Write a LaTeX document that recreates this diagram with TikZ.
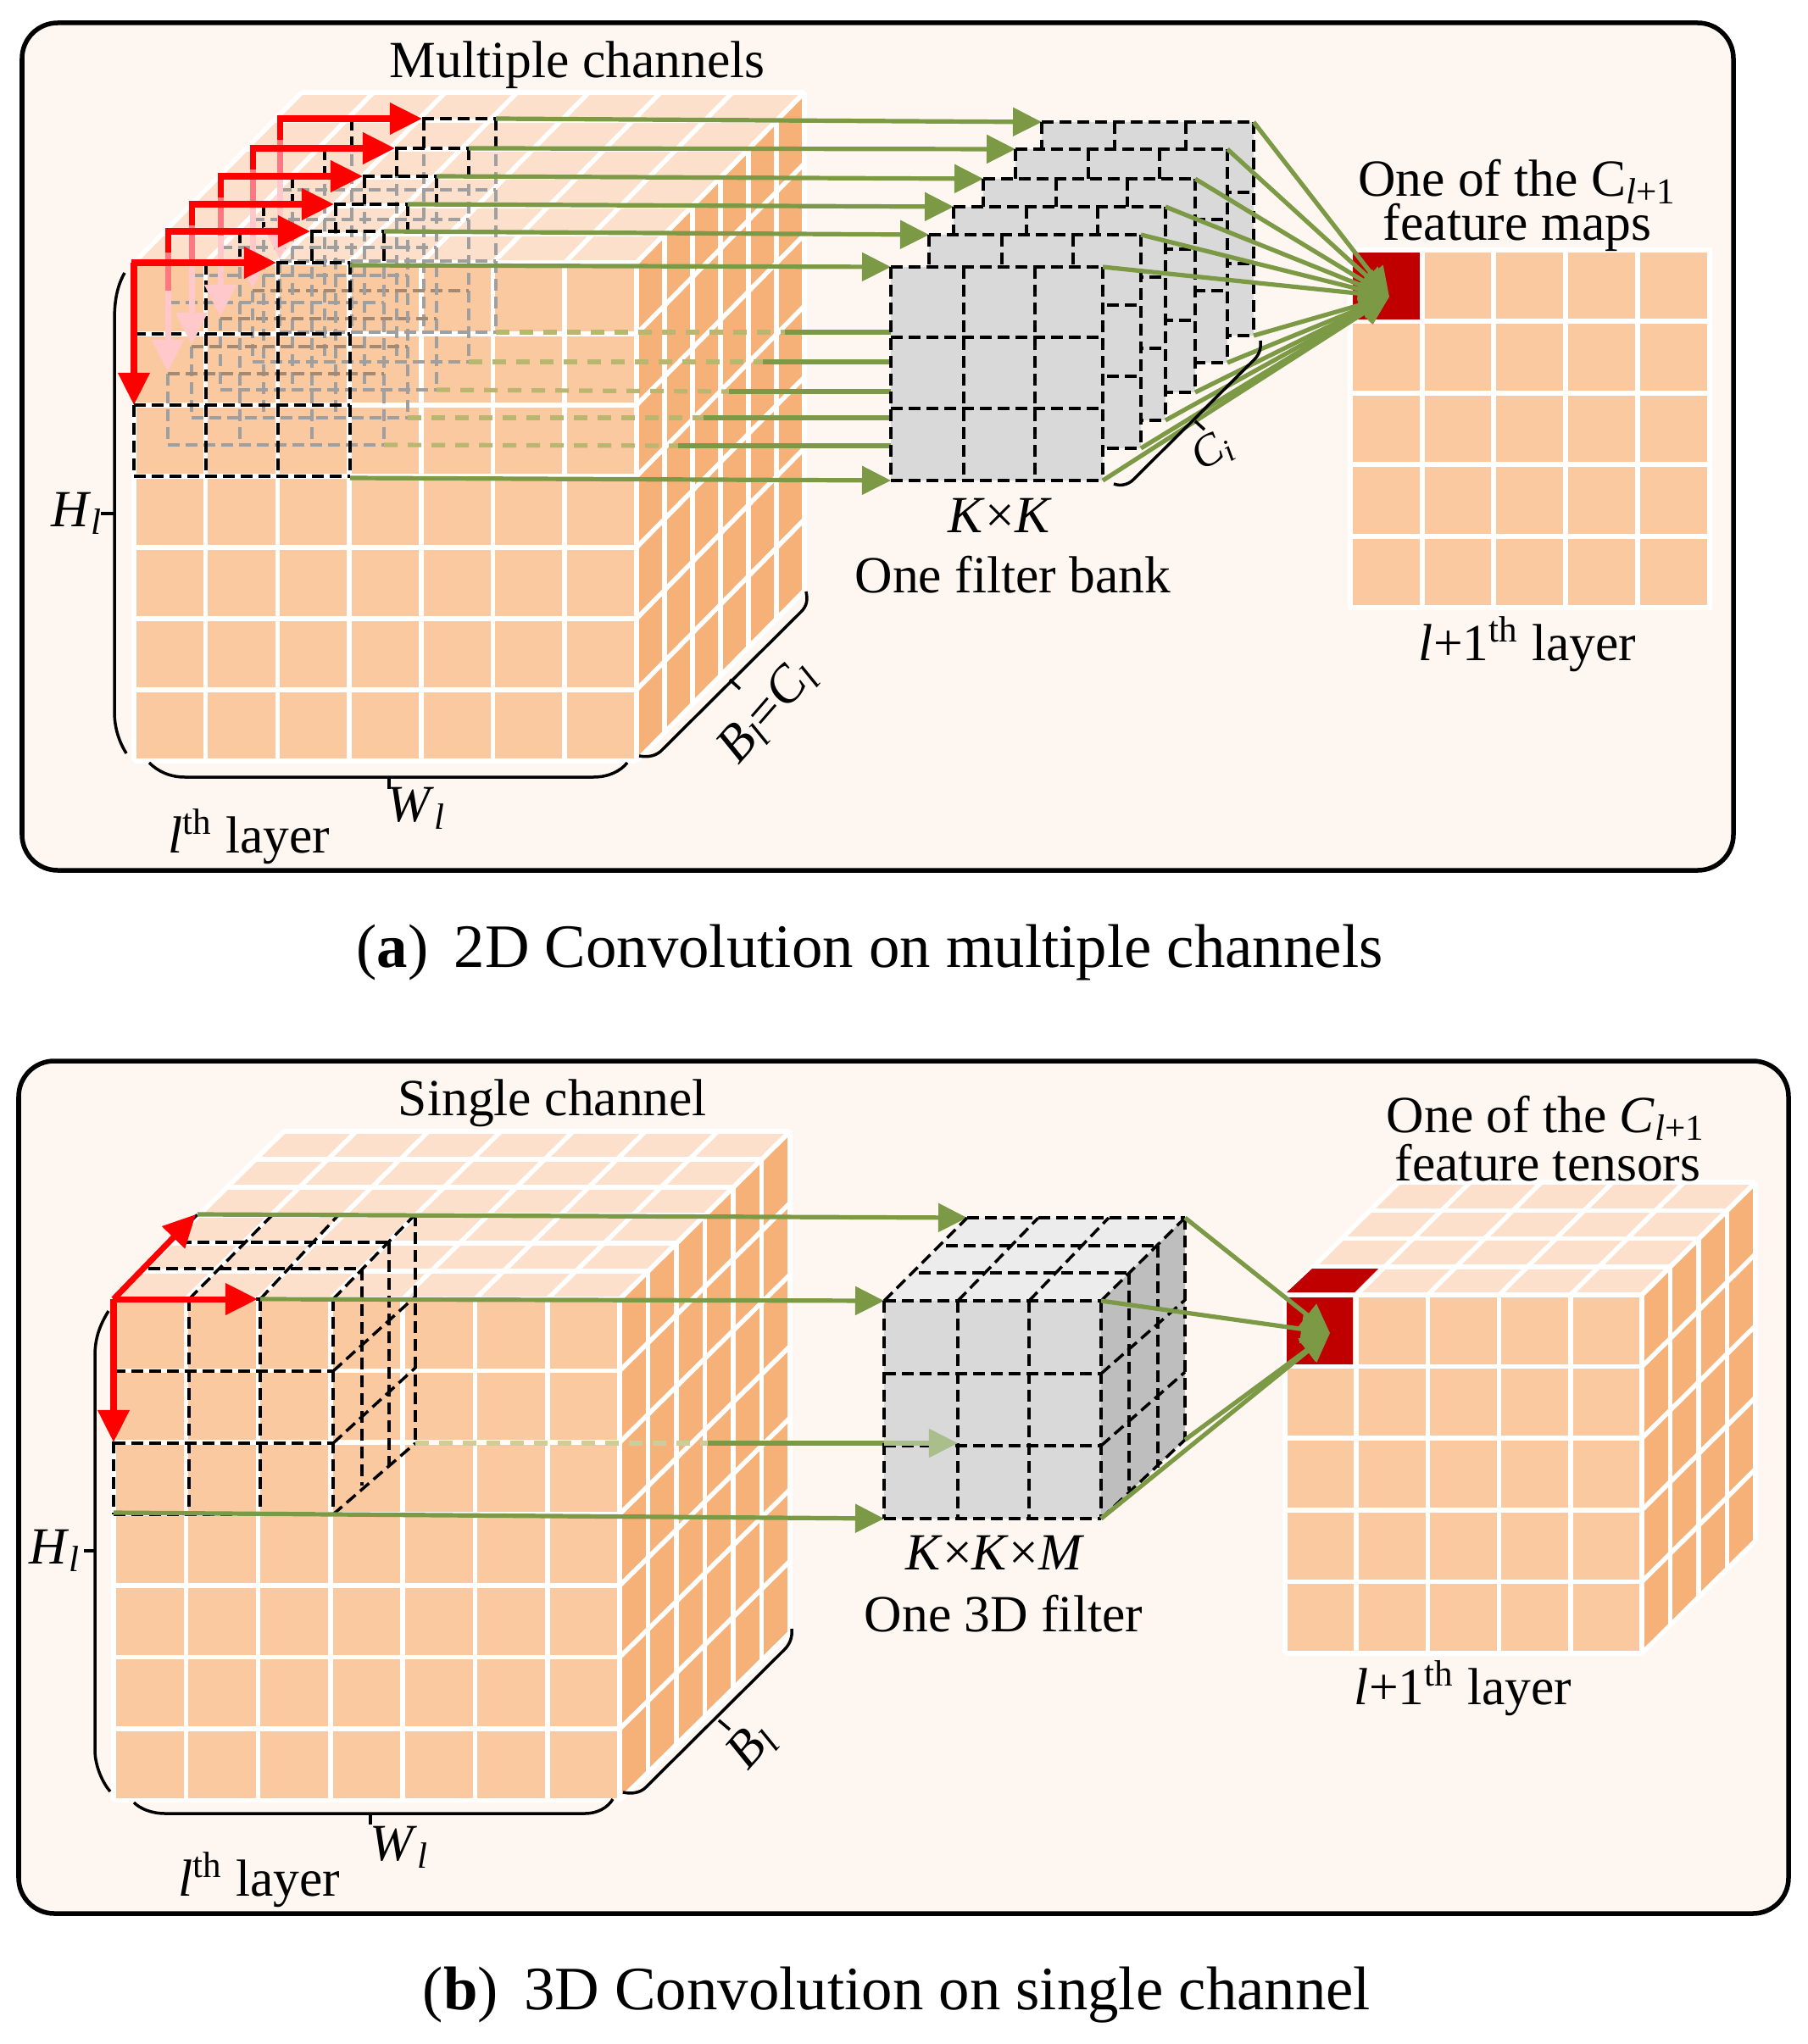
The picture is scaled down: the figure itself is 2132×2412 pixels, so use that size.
\documentclass[tikz,border=0pt]{standalone}
\usepackage{fontspec}
\setmainfont{Liberation Serif}
\usetikzlibrary{arrows.meta,calc}
\definecolor{panelc}{RGB}{254,246,240}
\definecolor{frontc}{RGB}{250,201,160}
\definecolor{topc}{RGB}{252,224,203}
\definecolor{sidec}{RGB}{246,177,120}
\definecolor{grn}{RGB}{124,153,69}
\definecolor{grnfade}{RGB}{185,182,112}
\definecolor{grnpale}{RGB}{170,190,140}
\definecolor{darkred}{RGB}{192,0,0}
\definecolor{pinkc}{RGB}{255,200,203}
\definecolor{redsoft}{RGB}{255,120,128}
\definecolor{brownc}{RGB}{165,138,115}
\definecolor{filt}{RGB}{217,217,217}
\definecolor{filttop}{RGB}{236,236,236}
\definecolor{filtside}{RGB}{190,190,190}
\tikzset{
  panel/.style={draw=black,line width=.055cm,rounded corners=.42cm,fill=panelc},
  wline/.style={white,line width=.055cm},
  dsh/.style={black,line width=.035cm,dash pattern=on .14cm off .07cm},
  dshgray/.style={dsh,color=gray!75},
  dshbrown/.style={dsh,color=brownc},
  redarr/.style={red,line width=.07cm,-{Triangle[length=.38cm,width=.36cm]}},
  pinkarr/.style={pinkc,line width=.07cm,-{Triangle[length=.38cm,width=.36cm]}},
  grnarr/.style={grn,line width=.052cm,-{Triangle[length=.34cm,width=.33cm]}},
  grnline/.style={grn,line width=.052cm},
  grndash/.style={line width=.052cm,dash pattern=on .16cm off .12cm},
  brc/.style={black,line width=.035cm},
  lab/.style={font=\fontsize{17.5}{21}\selectfont,inner sep=0pt,align=center},
  capt/.style={font=\fontsize{20.7}{25}\selectfont,inner sep=0pt},
}
% x y nx ny nz cellw cellh dx dy
\newcommand{\cubegrid}[9]{
  \pgfmathsetmacro\xr{#1+#3*#6}
  \pgfmathsetmacro\yb{#2+#4*#7}
  \pgfmathsetmacro\ddx{#5*#8}
  \pgfmathsetmacro\ddy{#5*#9}
  \fill[frontc] (#1,#2) rectangle (\xr,\yb);
  \fill[topc] (#1,#2) -- (\xr,#2) -- ({\xr+\ddx},{#2+\ddy}) -- ({#1+\ddx},{#2+\ddy}) -- cycle;
  \fill[sidec] (\xr,#2) -- (\xr,\yb) -- ({\xr+\ddx},{\yb+\ddy}) -- ({\xr+\ddx},{#2+\ddy}) -- cycle;
  \foreach \k in {0,...,#3}{
    \draw[wline] ({#1+\k*#6},#2) -- ({#1+\k*#6},\yb);
    \draw[wline] ({#1+\k*#6},#2) -- ({#1+\k*#6+\ddx},{#2+\ddy});
  }
  \foreach \k in {0,...,#4}{
    \draw[wline] (#1,{#2+\k*#7}) -- (\xr,{#2+\k*#7});
    \draw[wline] (\xr,{#2+\k*#7}) -- ({\xr+\ddx},{#2+\k*#7+\ddy});
  }
  \foreach \k in {0,...,#5}{
    \draw[wline] ({#1+\k*#8},{#2+\k*#9}) -- ({\xr+\k*#8},{#2+\k*#9});
    \draw[wline] ({\xr+\k*#8},{#2+\k*#9}) -- ({\xr+\k*#8},{\yb+\k*#9});
  }
}
% x y : dashed 3x3 window of a layer
\newcommand{\winlines}[3]{
  \foreach \c in {0,85,170,255}{\draw[#3] ({#1+\c},#2) -- ({#1+\c},{#2+252});}
  \foreach \r in {0,84,168,252}{\draw[#3] (#1,{#2+\r}) -- ({#1+255},{#2+\r});}
}
\begin{document}
\begin{tikzpicture}[x=.01cm,y=-.01cm]
\useasboundingbox (0,0) rectangle (2132,2412);
% panel (a)
\draw[panel] (26,27) rectangle (2045,1027);
\cubegrid{158}{310}{7}{7}{6}{84.7}{84}{33}{-33.5}
% sliding windows, back layers
\foreach \i/\wx/\wy/\nxt in {5/330/140/175,4/298/175/208,3/260/208/241,2/226/241/273,1/198/273/310}{
  \coordinate (wa\i) at (\wx,\wy);
  \coordinate (wat\i) at ({\wx+255},\wy);
  \coordinate (wab\i) at ({\wx+255},{\wy+252});
  \winlines{\wx}{\wy}{dshgray}
  \begin{scope}
    \clip (100,100) rectangle (700,\nxt);
    \winlines{\wx}{\wy}{dsh}
  \end{scope}
  \ifnum\i<5
    \draw[dshbrown] (\wx,{\wy+168}) -- ({\wx+255},{\wy+168});
  \fi
}
\coordinate (wa0) at (158,310);
\coordinate (wat0) at (413,313);
\coordinate (wab0) at (413,564);
\winlines{158}{310}{dsh}
% red strides
\foreach \i/\wx/\wy in {5/330/140,4/298/175,3/260/208,2/226/241,1/198/273}{
  \coordinate (ta\i) at ({\wx+168},\wy);
  \coordinate (da\i) at (\wx,{\wy+166});
  \draw[pinkarr] (wa\i) -- (da\i);
  \draw[redsoft,line width=.07cm] (wa\i) -- ++(0,70);
  \draw[red,line width=.07cm] (wa\i) -- ++(0,25);
  \draw[redarr] ($(wa\i)+(-3,0)$) -- (ta\i);
}
\coordinate (ta0) at (326,310);
\coordinate (da0) at (158,478);
\draw[redarr] ($(wa0)+(-3,0)$) -- (ta0);
\draw[redarr] (wa0) -- (da0);
% filter bank corners
\foreach \i/\fx/\fy in {5/1229/144,4/1198/176,3/1160/211,2/1125/244,1/1096/277,0/1051/315}{
  \coordinate (fa\i) at (\fx,\fy);
  \coordinate (fat\i) at ({\fx+250},\fy);
  \coordinate (fab\i) at ({\fx+250},{\fy+252});
}
% lines behind the filters
\foreach \i/\gx/\gy in {5/926/392,4/900/427,3/860/462,2/830/493,1/800/526}{
  \coordinate (ga\i) at (\gx,\gy);
  \draw[grndash,grnfade] (wab\i) -- (ga\i);
  \draw[grnline] (ga\i) -- (1060,\gy);
}
\foreach \i in {5,4,3,2,1,0}{
  \draw[grnarr] (wat\i) -- (fa\i);
}
\draw[grnarr] (wab0) -- (fab0 -| fa0);
% filter bank
\foreach \i/\fx/\fy in {5/1229/144,4/1198/176,3/1160/211,2/1125/244,1/1096/277,0/1051/315}{
  \fill[filt] (\fx,\fy) rectangle ({\fx+250},{\fy+252});
  \foreach \c in {0,86,170,250}{\draw[dsh] ({\fx+\c},\fy) -- ({\fx+\c},{\fy+252});}
  \foreach \r in {0,83,167,252}{\draw[dsh] (\fx,{\fy+\r}) -- ({\fx+250},{\fy+\r});}
}
% feature map
\fill[frontc] (1593,295) rectangle (2017,717);
\foreach \k in {0,...,5}{
  \draw[white,line width=.06cm] ({1593+\k*84.7},293) -- ({1593+\k*84.7},719);
  \draw[white,line width=.06cm] (1591,{295+\k*84.4}) -- (2019,{295+\k*84.4});
}
\fill[darkred] (1596,298) rectangle (1675,377);
\coordinate (tipa) at (1639,350);
\foreach \i in {5,4,3,2,1,0}{
  \draw[grnarr] (fat\i) -- (tipa);
  \draw[grnarr] (fab\i) -- (tipa);
}
% braces (a)
\draw[brc] (147,322) .. controls (138,338) and (135,355) .. (135,378) -- (135,840) .. controls (135,860) and (141,876) .. (149,889);
\draw[brc] (135,606) -- (119,606);
\draw[brc] (176,900) .. controls (186,910) and (200,917) .. (218,917) -- (700,917) .. controls (718,917) and (732,910) .. (740,900);
\draw[brc] (459,917) -- (459,931);
\draw[brc] (754,892) .. controls (765,894) and (775,892) .. (782,884) -- (945,722) .. controls (952,715) and (953,708) .. (951,698);
\draw[brc] (861,802) -- (873,813);
\draw[brc] (1314,571) .. controls (1322,574) and (1331,572) .. (1337,566) -- (1480,424) .. controls (1486,418) and (1488,410) .. (1487,402);
\draw[brc] (1410,497) -- (1421,507);
% labels (a)
\node[lab] (mult) at (681,77) {Multiple channels};
\node[lab] (hla) at (91,606) {\textit{H}\textsubscript{\textit{l}}};
\node[lab] (wla) at (491,954) {\textit{W}\textsubscript{\textit{l}}};
\node[lab] (lya) at (294,987) {\textit{l}\textsuperscript{th} layer};
\node[lab,rotate=49] (bla) at (906,840) {\textit{B}\textsubscript{\textit{l}}=\textit{C}\textsubscript{\textit{l}}};
\node[lab,rotate=30,font=\fontsize{15}{17}\selectfont] (cia) at (1431,533) {\textit{C}\textsubscript{\textit{i}}};
\node[lab] (kka) at (1180,608) {\textit{K}×\textit{K}};
\node[lab] (bank) at (1195,678) {One filter bank};
\node[lab] (ofa) at (1790,214) {One of the C\textsubscript{\textit{l}+1}};
\node[lab] (fma) at (1790,268) {feature maps};
\node[lab] (nla) at (1802,760) {\textit{l}+1\textsuperscript{th} layer};
\node[capt] (capa) at (1026,1124) {(\textbf{a})\, 2D Convolution on multiple channels};
% panel (b)
\draw[panel] (22,1252) rectangle (2110,2258);
\cubegrid{134}{1533}{7}{7}{6}{85.3}{84.5}{33.5}{-33}
% 3D window
\foreach \x in {134,223,307,393}{\draw[dsh] (\x,1533) -- (\x,1787);}
\foreach \y in {1533,1618,1703,1787}{\draw[dsh] (134,\y) -- (393,\y);}
\foreach \x/\y/\xe in {175/1497/427,212/1466/459}{\draw[dsh] (\x,\y) -- (\xe,\y);}
\foreach \xa/\xb in {134/233,223/322,307/400,393/490}{\draw[dsh] (\xa,1533) -- (\xb,1433);}
\foreach \x/\ya/\yb in {427/1497/1753,459/1466/1730,490/1433/1703}{\draw[dsh] (\x,\ya) -- (\x,\yb);}
\foreach \y/\ye in {1618/1530,1703/1614,1787/1703}{\draw[dsh] (393,\y) -- (490,\ye);}
\coordinate (wb0) at (134,1533);
\coordinate (wb1) at (233,1433);
\coordinate (wb2) at (307,1533);
\coordinate (wb3) at (490,1703);
\coordinate (wb4) at (134,1785);
\coordinate (wbm) at (835,1703);
% filter corners
\coordinate (fb1) at (1141,1437);
\coordinate (fb2) at (1043,1535);
\coordinate (fb3) at (1043,1703);
\coordinate (fb4) at (1043,1792);
\coordinate (fb5) at (1398,1437);
\coordinate (fb6) at (1299,1535);
\coordinate (fb7) at (1398,1699);
\coordinate (fb8) at (1299,1792);
\coordinate (fbm) at (1130,1703);
\draw[redarr] (wb0) -- (304,1533);
\draw[redarr] (wb0) -- (134,1702);
\draw[redarr] (wb0) -- ($(wb1)+(-2,0)$);
\draw[grndash,grnfade!70!white] (wb3) -- (wbm);
\draw[grnline] (wbm) -- (fb3);
\draw[grnarr] (wb1) -- (fb1);
\draw[grnarr] (wb2) -- (fb2);
\draw[grnarr] (wb4) -- (fb4);
% 3D filter
\fill[filttop] (fb2) -- (fb6) -- (fb5) -- (fb1) -- cycle;
\fill[filtside] (fb6) -- (fb8) -- (fb7) -- (fb5) -- cycle;
\fill[filt] (fb2) rectangle (fb8);
\foreach \x in {1043,1130,1214,1299}{\draw[dsh] (\x,1535) -- (\x,1792);}
\foreach \y in {1535,1621,1706,1792}{\draw[dsh] (1043,\y) -- (1299,\y);}
\foreach \xa/\xb in {1043/1141,1130/1225,1214/1308,1299/1398}{\draw[dsh] (\xa,1535) -- (\xb,1437);}
\foreach \x/\y/\xe in {1141/1437/1398,1116/1470/1366,1084/1502/1332}{\draw[dsh] (\x,\y) -- (\xe,\y);}
\foreach \x/\ya/\yb in {1332/1502/1759,1366/1470/1732,1398/1437/1699}{\draw[dsh] (\x,\ya) -- (\x,\yb);}
\foreach \y/\ye in {1621/1534,1706/1619,1792/1699}{\draw[dsh] (1299,\y) -- (1398,\ye);}
\draw[grnarr,grnpale] (fb3) -- (fbm);
% feature tensor
\cubegrid{1516}{1528}{5}{5}{4}{84.2}{84.6}{33.5}{-33.2}
\fill[darkred] (1518,1531) rectangle (1596,1610);
\fill[darkred] (1518,1525) -- (1598,1525) -- (1626,1497) -- (1548,1497) -- cycle;
\coordinate (tipb) at (1569,1573);
\draw[grnarr] (fb5) -- (tipb);
\draw[grnarr] (fb6) -- (tipb);
\draw[grnarr] (fb7) -- (tipb);
\draw[grnarr] (fb8) -- (tipb);
% braces (b)
\draw[brc] (128,1547) .. controls (117,1565) and (112,1580) .. (112,1600) -- (112,2065) .. controls (112,2085) and (122,2105) .. (130,2114);
\draw[brc] (112,1830) -- (99,1830);
\draw[brc] (158,2127) .. controls (165,2134) and (178,2140) .. (195,2140) -- (690,2140) .. controls (705,2140) and (717,2133) .. (723,2123);
\draw[brc] (437,2140) -- (437,2153);
\draw[brc] (735,2115) .. controls (745,2117) and (755,2116) .. (762,2109) -- (925,1947) .. controls (932,1940) and (935,1932) .. (934,1922);
\draw[brc] (848,2030) -- (861,2041);
% labels (b)
\node[lab] (sing) at (652,1302) {Single channel};
\node[lab] (hlb) at (65,1830) {\textit{H}\textsubscript{\textit{l}}};
\node[lab] (wlb) at (471,2180) {\textit{W}\textsubscript{\textit{l}}};
\node[lab] (lyb) at (306,2218) {\textit{l}\textsuperscript{th} layer};
\node[lab,rotate=49] (blb) at (888,2061) {\textit{B}\textsubscript{\textit{l}}};
\node[lab] (kkb) at (1174,1832) {\textit{K}×\textit{K}×\textit{M}};
\node[lab] (filb) at (1184,1904) {One 3D filter};
\node[lab] (ofb) at (1824,1319) {One of the \textit{C}\textsubscript{\textit{l}+1}};
\node[lab] (ftb) at (1826,1372) {feature tensors};
\node[lab] (nlb) at (1726,1992) {\textit{l}+1\textsuperscript{th} layer};
\node[capt] (capb) at (1058,2354) {(\textbf{b})\, 3D Convolution on single channel};
\end{tikzpicture}
\end{document}
